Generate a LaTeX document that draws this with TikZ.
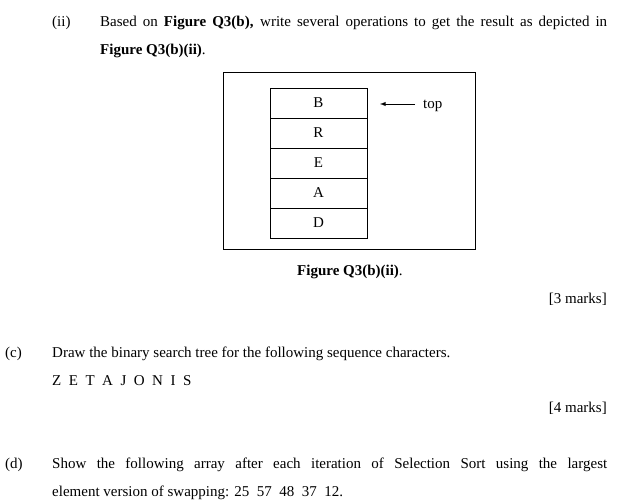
\documentclass[tikz,border=0pt]{standalone}
\usepackage{fontspec}
\setmainfont{Liberation Serif}
\begin{document}
\begin{tikzpicture}[x=1pt,y=-1pt,
  txt/.style={anchor=base west,inner sep=0pt,font=\fontsize{15}{17}\selectfont},
  cell/.style={draw,minimum width=97pt,minimum height=30pt,inner sep=0pt,font=\fontsize{15}{17}\selectfont}]
\useasboundingbox (0,0) rectangle (622,503);
\node[txt] (ii) at (52,27) {(ii)};
\node[txt] (l1) at (100,27) {\makebox[507pt][s]{Based on \textbf{Figure Q3(b),} write several operations to get the result as depicted in}};
\node[txt] (l2) at (100,55) {\textbf{Figure Q3(b)(ii)}.};
\draw (223,72) rectangle (475,249);
\foreach \t/\i in {B/0,R/1,E/2,A/3,D/4}
  \node[cell] (c\i) at (318.5,103+30*\i) {\t};
\node[txt] (top) at (423,109) {top};
\coordinate (ts) at (415,104);
\draw[-latex,line width=0.9pt] (ts) -- (380,104);
\node[txt] (fig) at (297,275) {\textbf{Figure Q3(b)(ii)}.};
\node[txt,anchor=base east] (m3) at (607,303) {[3 marks]};
\node[txt] (c) at (5,357) {(c)};
\node[txt] (cl) at (52,357) {Draw the binary search tree for the following sequence characters.};
\node[txt] (zs) at (52,385) {Z\ \ E\ \ T\ \ A\ \ J\ \ O\ \ N\ \ I\ \ S};
\node[txt,anchor=base east] (m4) at (607,412) {[4 marks]};
\node[txt] (d) at (5,468) {(d)};
\node[txt] (dl) at (52,468) {\makebox[555pt][s]{Show the following array after each iteration of Selection Sort using the largest}};
\node[txt] (dl2) at (52,496) {element version of swapping: 25\ \ 57\ \ 48\ \ 37\ \ 12.};
\end{tikzpicture}
\end{document}
